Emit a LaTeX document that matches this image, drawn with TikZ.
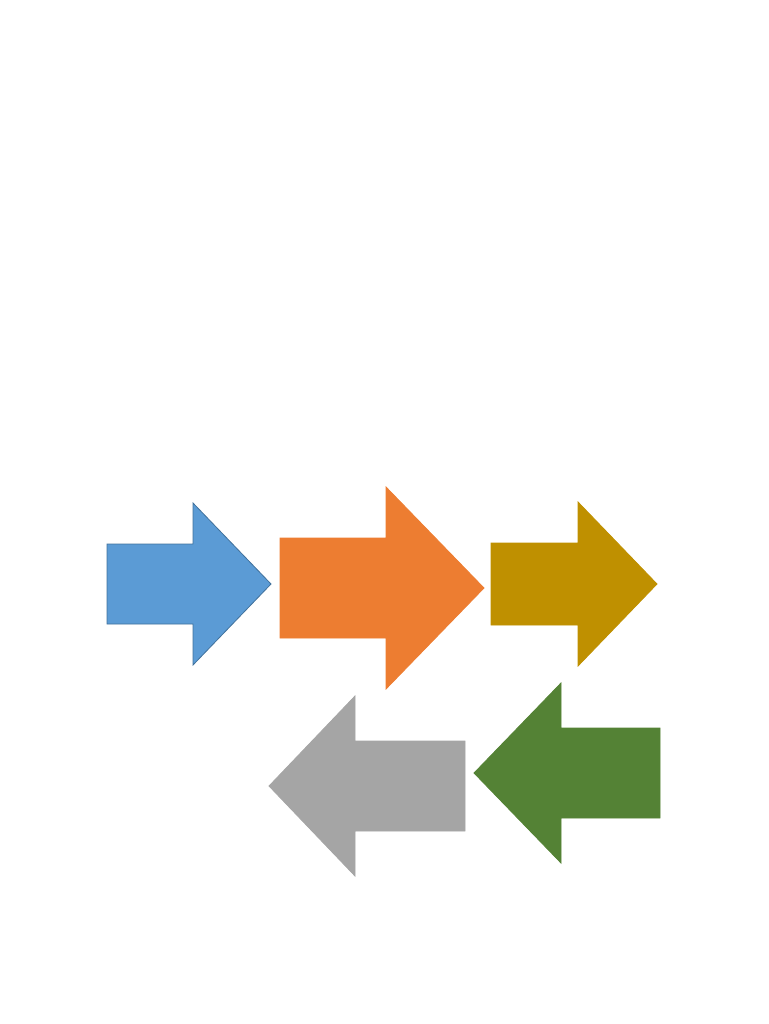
\documentclass[tikz,border=0pt]{standalone}
\usepackage{tikz}

\definecolor{arrblue}{HTML}{5B9BD5}
\definecolor{arrblueline}{HTML}{41719C}
\definecolor{arrorange}{HTML}{ED7D31}
\definecolor{arrgold}{HTML}{BF9000}
\definecolor{arrgray}{HTML}{A5A5A5}
\definecolor{arrgreen}{HTML}{548235}

\begin{document}
\begin{tikzpicture}[x=1pt,y=-1pt]

            \useasboundingbox (0,0) rectangle (768,1024);

            % Block arrows: tail x / head base x / tip x / tip y / shaft half width / head half width / colour
            \foreach \tl/\hx/\tx/\ty/\sw/\hw/\col/\ln in {
            107/193/271/584/40/81/arrblue/arrblueline,
            280/386/484/588/50/101/arrorange/arrorange,
            491/578/657/584/41/82/arrgold/arrgold,
            465/355/269/786/45/90/arrgray/arrgray,
            660/561/474/773/45/90/arrgreen/arrgreen} {
            \draw [fill=\col,draw=\ln,line width=0.8pt,line join=miter]
                (\tl,\ty-\sw) -- (\hx,\ty-\sw) -- (\hx,\ty-\hw) -- (\tx,\ty)
                -- (\hx,\ty+\hw) -- (\hx,\ty+\sw) -- (\tl,\ty+\sw) -- cycle;
            }

        \end{tikzpicture}
\end{document}
